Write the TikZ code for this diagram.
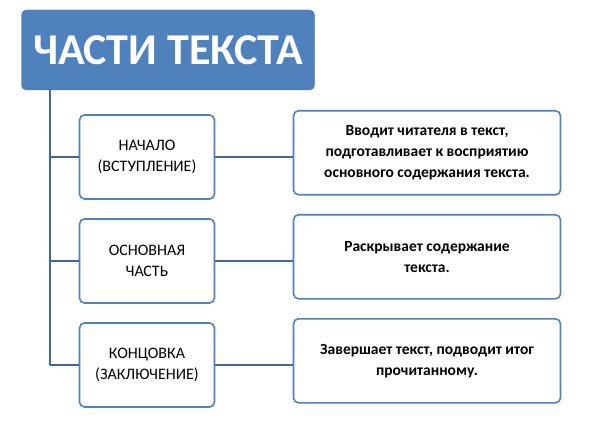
\documentclass[tikz,border=0pt]{standalone}
\usepackage{fontspec}
\setmainfont{Carlito}
\definecolor{boxblue}{HTML}{4F81BD}
\definecolor{edgeblue}{HTML}{3D6A9A}
\begin{document}
\begin{tikzpicture}[x=1pt,y=-1pt,
  part/.style={draw=boxblue,line width=1.6pt,rounded corners=5pt,fill=white,
    minimum width=135pt,minimum height=84pt,align=center,font=\fontsize{16}{21}\selectfont},
  note/.style={draw=boxblue,line width=1.6pt,rounded corners=5pt,fill=white,
    minimum width=267pt,minimum height=84pt,align=center,font=\fontsize{15.5}{21}\selectfont\bfseries},
  link/.style={draw=edgeblue,line width=1.4pt}]
\useasboundingbox (0,0) rectangle (615,438);
\node[fill=boxblue,draw=edgeblue,rounded corners=5pt,minimum width=293pt,minimum height=80pt,
  text=white,font=\fontsize{44}{50}\selectfont\bfseries] (title) at (168,50) {ЧАСТИ ТЕКСТА};
\coordinate (trunk) at (50,90);
\coordinate (trunkend) at (50,365);
\draw[link] (trunk) -- (trunkend);

% parts of the text and what they do
\foreach \n/\y/\a/\b in {1/157/{НАЧАЛО\\(ВСТУПЛЕНИЕ)}/{Вводит читателя в текст,\\подготавливает к восприятию\\основного содержания текста.},
  2/261/{ОСНОВНАЯ\\ЧАСТЬ}/{Раскрывает содержание\\текста.},
  3/365/{КОНЦОВКА\\(ЗАКЛЮЧЕНИЕ)}/{Завершает текст, подводит итог\\прочитанному.}}
{
  \node[part] (p\n) at (147,\y) {\a};
  \node[note,anchor=north] (d\n) at (427,\y-47) {\b};
  \draw[link] (p\n.west -| trunk) -- (p\n.west);
  \draw[link] (p\n.east) -- (p\n.east -| d\n.west);
};
\end{tikzpicture}
\end{document}
